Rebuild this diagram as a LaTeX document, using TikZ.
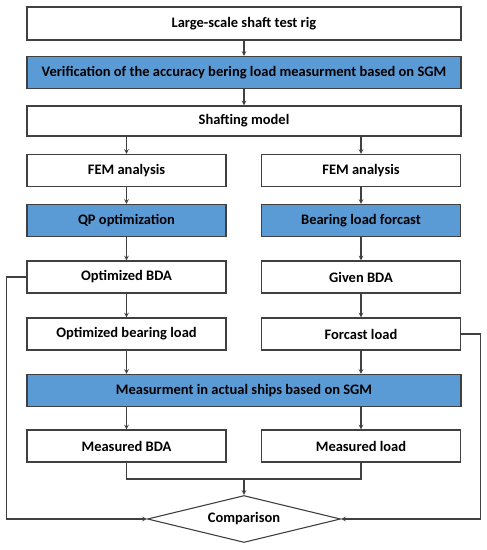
\documentclass[tikz,border=0pt]{standalone}
\usepackage{fontspec}
\setmainfont{Carlito}
\usepackage{tikz}
\usetikzlibrary{arrows,shapes,positioning}
\usepackage{xcolor}
\definecolor{sgmblue}{RGB}{91,155,213}
\definecolor{sgmline}{RGB}{64,64,64}
\tikzstyle{stage} = [rectangle, minimum width=434pt, minimum height=32pt, inner xsep=2pt, text centered, draw=sgmline, fill=white, line width=1.1pt, font=\fontsize{14.5}{17}\selectfont\bfseries]
\tikzstyle{keystage} = [stage, fill=sgmblue]
\tikzstyle{half} = [minimum width=199pt]
\tikzstyle{arrow} = [line width=1.1pt,->,>=stealth,color=sgmline]

\begin{document}
\begin{tikzpicture}[x=1pt,y=1pt,node distance=49pt]
\useasboundingbox (0,0) rectangle (487,-550);
% Test rig and verification
\node (rig) [stage, minimum height=33pt] at (244,-23.5) {Large-scale shaft test rig};
\node (verify) [keystage, below of=rig] {Verification of the accuracy bering load measurment based on SGM};
\node (shaft) [stage, below of=verify, yshift=0.5pt, minimum height=30pt] {Shafting model};

% Left branch
\node (femL) [stage, half, below of=shaft, xshift=-117.5pt, yshift=-0.5pt] {FEM analysis};
\node (qp) [keystage, half, below of=femL, yshift=-1pt] {QP optimization};
\node (optbda) [stage, half, below of=qp, yshift=-7.5pt] {Optimized BDA};
\node (optload) [stage, half, below of=optbda, yshift=-8pt] {Optimized bearing load};

% Right branch
\node (femR) [stage, half, right of=femL, xshift=185.5pt] {FEM analysis};
\node (forecast) [keystage, half, below of=femR, yshift=-1pt] {Bearing load forcast};
\node (givenbda) [stage, half, below of=forecast, yshift=-7.5pt] {Given BDA};
\node (fload) [stage, half, below of=givenbda, yshift=-8pt] {Forcast load};

% Ship measurement
\node (ship) [keystage, below of=optload, xshift=117.5pt, yshift=-7.5pt] {Measurment in actual ships based on SGM};
\node (mbda) [stage, half, below of=ship, xshift=-117.5pt, yshift=-6.5pt] {Measured BDA};
\node (mload) [stage, half, below of=ship, xshift=117pt, yshift=-6.5pt] {Measured load};

% Comparison
\node (cmp) [diamond, shape aspect=4.1, draw=sgmline, line width=1.1pt, inner sep=0pt, minimum width=193pt, minimum height=47pt, font=\fontsize{14.5}{17}\selectfont\bfseries] at (244,-519) {Comparison};
\coordinate (join) at (244,-479);

% Arrows
\draw [arrow] (rig) -- (verify);
\draw [arrow] (verify) -- (shaft);
\draw [arrow] (femL.north |- shaft.south) -- (femL);
\draw [arrow] (femR.north |- shaft.south) -- (femR);
\draw [arrow] (femL) -- (qp);
\draw [arrow] (qp) -- (optbda);
\draw [arrow] (optbda) -- (optload);
\draw [arrow] (femR) -- (forecast);
\draw [arrow] (forecast) -- (givenbda);
\draw [arrow] (givenbda) -- (fload);
\draw [arrow] (optload) -- (optload |- ship.north);
\draw [arrow] (fload) -- (fload |- ship.north);
\draw [arrow] (ship.south -| mbda) -- (mbda);
\draw [arrow] (ship.south -| mload) -- (mload);
\draw [line width=1.1pt, color=sgmline] (mbda.south) |- (join) -| (mload.south);
\draw [arrow] (join) -- (cmp.north);
\draw [arrow] (optbda.west) -- ++(-20,0) |- (cmp.west);
\draw [arrow] (fload.east) -- ++(19,0) |- (cmp.east);
\end{tikzpicture}
\end{document}
